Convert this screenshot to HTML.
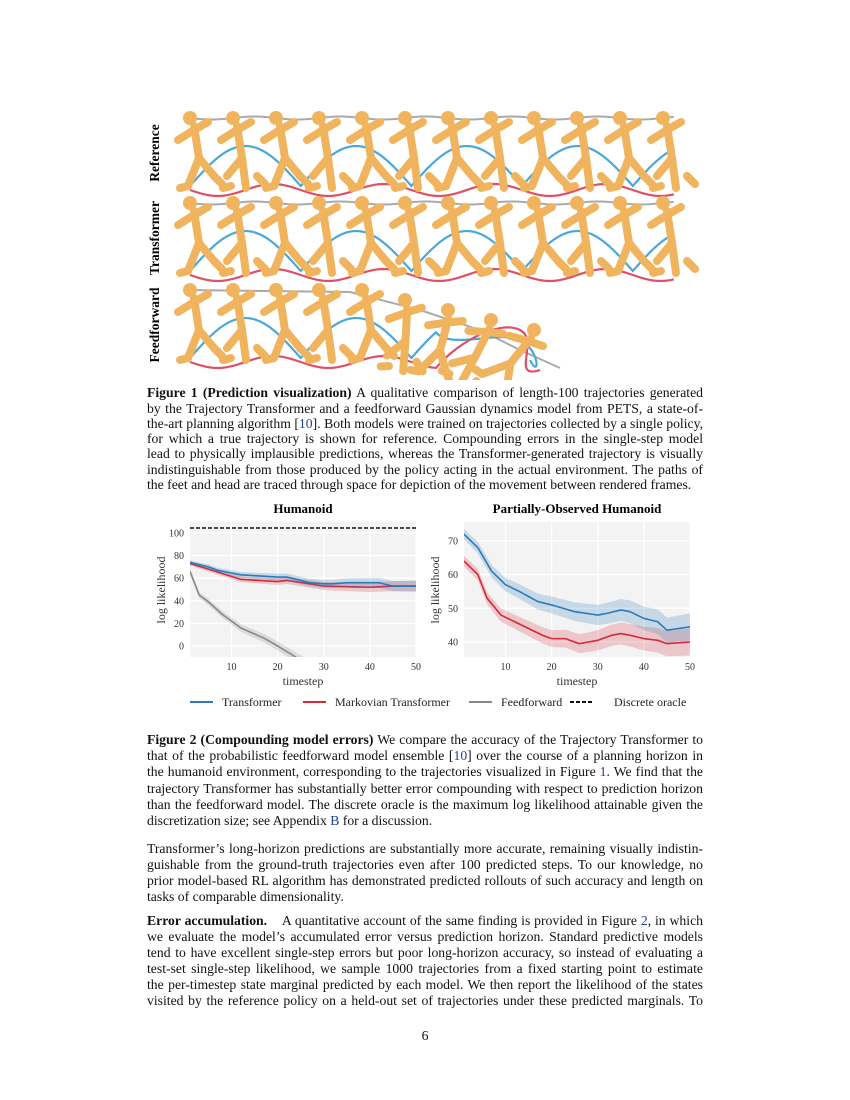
<!DOCTYPE html>
<html><head><meta charset="utf-8">
<style>
body{margin:0;background:#fff;}
#pg{position:relative;width:850px;height:1100px;overflow:hidden;font-family:"Liberation Serif",serif;color:#111;}
.ln{position:absolute;left:147px;width:556px;font-size:13.7px;line-height:15px;white-space:nowrap;text-align:justify;text-align-last:justify;}
.ln.l{text-align-last:left;}
b{font-weight:bold;}
.bl{color:#1f3f9f;}
svg text{font-family:"Liberation Serif",serif;}
</style></head><body><div id="pg">
<svg id="fig1" width="850" height="380" style="position:absolute;left:0;top:0"></svg>
<svg id="fig2" width="850" height="720" style="position:absolute;left:0;top:0"></svg>

<div class="ln" style="top:385px"><b>Figure 1 (Prediction visualization)</b> A qualitative comparison of length-100 trajectories generated</div>
<div class="ln" style="top:401px">by the Trajectory Transformer and a feedforward Gaussian dynamics model from PETS, a state-of-</div>
<div class="ln" style="top:416px">the-art planning algorithm [<span class="bl">10</span>]. Both models were trained on trajectories collected by a single policy,</div>
<div class="ln" style="top:431px">for which a true trajectory is shown for reference. Compounding errors in the single-step model</div>
<div class="ln" style="top:446px">lead to physically implausible predictions, whereas the Transformer-generated trajectory is visually</div>
<div class="ln" style="top:462px">indistinguishable from those produced by the policy acting in the actual environment. The paths of</div>
<div class="ln l" style="top:477px">the feet and head are traced through space for depiction of the movement between rendered frames.</div>

<div class="ln" style="top:732px"><b>Figure 2 (Compounding model errors)</b> We compare the accuracy of the Trajectory Transformer to</div>
<div class="ln" style="top:748px">that of the probabilistic feedforward model ensemble [<span class="bl">10</span>] over the course of a planning horizon in</div>
<div class="ln" style="top:764px">the humanoid environment, corresponding to the trajectories visualized in Figure <span class="bl">1</span>. We find that the</div>
<div class="ln" style="top:781px">trajectory Transformer has substantially better error compounding with respect to prediction horizon</div>
<div class="ln" style="top:797px">than the feedforward model. The discrete oracle is the maximum log likelihood attainable given the</div>
<div class="ln l" style="top:813px">discretization size; see Appendix <span class="bl">B</span> for a discussion.</div>

<div class="ln" style="top:841px">Transformer’s long-horizon predictions are substantially more accurate, remaining visually indistin-</div>
<div class="ln" style="top:857px">guishable from the ground-truth trajectories even after 100 predicted steps. To our knowledge, no</div>
<div class="ln" style="top:873px">prior model-based RL algorithm has demonstrated predicted rollouts of such accuracy and length on</div>
<div class="ln l" style="top:889px">tasks of comparable dimensionality.</div>

<div class="ln" style="top:913px"><b>Error accumulation.</b>&nbsp;&nbsp;&nbsp; A quantitative account of the same finding is provided in Figure <span class="bl">2</span>, in which</div>
<div class="ln" style="top:929px">we evaluate the model’s accumulated error versus prediction horizon. Standard predictive models</div>
<div class="ln" style="top:945px">tend to have excellent single-step errors but poor long-horizon accuracy, so instead of evaluating a</div>
<div class="ln" style="top:961px">test-set single-step likelihood, we sample 1000 trajectories from a fixed starting point to estimate</div>
<div class="ln" style="top:977px">the per-timestep state marginal predicted by each model. We then report the likelihood of the states</div>
<div class="ln" style="top:993px">visited by the reference policy on a held-out set of trajectories under these predicted marginals. To</div>
<div style="position:absolute;left:0;width:850px;top:1028px;text-align:center;font-size:13.7px">6</div>
</div>
<script>
var NS="http://www.w3.org/2000/svg";
function el(p,t,a,txt){var e=document.createElementNS(NS,t);for(var k in a)e.setAttribute(k,a[k]);if(txt!=null)e.textContent=txt;p.appendChild(e);return e;}
var f1=document.getElementById('fig1');
function row(y0,label,n,broken){
  var g="",b="",r="";
  var N=broken?60:118;
  for(var i=0;i<=N;i++){var x=190+i*4.1;
    g+=(i?"L":"M")+x+","+(y0+Math.sin(i*0.3)*1.5);
    b+=(i?"L":"M")+x+","+(y0+68-Math.abs(Math.sin(i*Math.PI/27))*40);
    r+=(i?"L":"M")+x+","+(y0+72+Math.sin(i*Math.PI/13.5)*6);}
  if(broken){g="M185,"+y0+" L350,"+(y0+2)+" L420,"+(y0+20)+" L480,"+(y0+40)+" L520,"+(y0+60)+" L560,"+(y0+78);
    b+=" C 450,"+(y0+60)+" 500,"+(y0+40)+" 520,"+(y0+50)+" S 540,"+(y0+90)+" 530,"+(y0+70);
    r+=" C 460,"+(y0+50)+" 500,"+(y0+30)+" 520,"+(y0+40)+" S 510,"+(y0+90)+" 540,"+(y0+80);}
  el(f1,'path',{d:g,stroke:'#aaa','stroke-width':2,fill:'none'});
  el(f1,'path',{d:b,stroke:'#4aa8d8','stroke-width':2.2,fill:'none'});
  el(f1,'path',{d:r,stroke:'#e05064','stroke-width':2.2,fill:'none'});
  for(var k=0;k<n;k++){var x=190+k*43,y=y0;
    var dy=0,tilt=0; if(broken&&k>=5){dy=(k-4)*10;tilt=(k-4)*12;}
    var gg=el(f1,'g',{stroke:'#f0b45e','stroke-width':8,'stroke-linecap':'round',fill:'none',transform:'translate('+x+','+(y+dy)+') rotate('+tilt+')'});
    var L=[[4,8,9,40],[9,40,-2,68],[9,40,24,58],[24,58,32,66],[4,12,-12,22],[4,12,18,4],[-2,68,-10,70]];
    if(k%2){L[1]=[9,40,13,70];L[2]=[9,40,-6,58];}
    L.forEach(function(s){el(gg,'line',{x1:s[0],y1:s[1],x2:s[2],y2:s[3]});});
    el(gg,'circle',{cx:0,cy:0,r:7,fill:'#f0b45e',stroke:'none'});
  }
  el(f1,'text',{x:0,y:0,'font-size':13.5,'font-weight':'bold','text-anchor':'middle',transform:'translate(159,'+(y0+35)+') rotate(-90)'},label);
}
row(118,'Reference',12,false);
row(203,'Transformer',12,false);
row(290,'Feedforward',9,true);

var f2=document.getElementById('fig2');
function plot(o){
  el(f2,'rect',{x:o.x0,y:522,width:o.x1-o.x0,height:135,fill:'#f3f3f3'});
  var sx=function(v){return o.x0+(v-1)*(o.x1-o.x0)/49;};
  var sy=o.sy;
  [10,20,30,40,50].forEach(function(t){el(f2,'line',{x1:sx(t),x2:sx(t),y1:522,y2:657,stroke:'#fff','stroke-width':1.3});
    el(f2,'text',{x:sx(t),y:670,'font-size':10,'text-anchor':'middle',fill:'#333'},t);});
  o.yt.forEach(function(v){var y=sy(v);el(f2,'line',{x1:o.x0,x2:o.x1,y1:y,y2:y,stroke:'#fff','stroke-width':1.3});
    el(f2,'text',{x:o.x0-6,y:y+3.5,'font-size':10,'text-anchor':'end',fill:'#333'},v);});
  var cp=el(f2,'clipPath',{id:o.id});el(cp,'rect',{x:o.x0,y:522,width:o.x1-o.x0,height:135});
  var g=el(f2,'g',{'clip-path':'url(#'+o.id+')'});
  function interp(pts){var out=[];for(var t=1;t<=50;t++){for(var i=0;i<pts.length-1;i++){if(t>=pts[i][0]&&t<=pts[i+1][0]){var a=pts[i],b=pts[i+1];out.push([t,a[1]+(b[1]-a[1])*(t-a[0])/(b[0]-a[0])]);break;}}}return out;}
  o.series.forEach(function(s){var d=interp(s.p);
    var band="";d.forEach(function(q,i){band+=(i?"L":"M")+sx(q[0])+","+sy(q[1]+s.e*(0.6+q[0]/50));});
    for(var i=d.length-1;i>=0;i--)band+="L"+sx(d[i][0])+","+sy(d[i][1]-s.e*(0.6+d[i][0]/50));
    el(g,'path',{d:band+"Z",fill:s.c,'fill-opacity':0.22,stroke:'none'});
    var l="";d.forEach(function(q,i){l+=(i?"L":"M")+sx(q[0])+","+sy(q[1]);});
    el(g,'path',{d:l,stroke:s.c,'stroke-width':1.6,fill:'none'});});
  if(o.oracle)el(f2,'line',{x1:o.x0,x2:o.x1,y1:528,y2:528,stroke:'#111','stroke-width':1.6,'stroke-dasharray':'4,2'});
  el(f2,'text',{x:(o.x0+o.x1)/2,y:513,'font-size':13,'font-weight':'bold','text-anchor':'middle'},o.title);
  el(f2,'text',{x:(o.x0+o.x1)/2,y:685,'font-size':12,'text-anchor':'middle',fill:'#333'},'timestep');
  el(f2,'text',{x:0,y:0,'font-size':12,'text-anchor':'middle',fill:'#333',transform:'translate('+(o.x0-25)+',590) rotate(-90)'},'log likelihood');
}
plot({id:'c1',x0:190,x1:416,title:'Humanoid',oracle:true,yt:[0,20,40,60,80,100],
 sy:function(v){return 646-v*1.13;},
 series:[
  {c:'#888',e:4,p:[[1,66],[3,45],[5,39],[8,28],[12,16],[17,7],[20,0],[24,-10],[30,-25],[50,-60]]},
  {c:'#d62838',e:3,p:[[1,73],[5,68],[12,59],[20,57],[22,58],[27,55],[30,53],[40,52],[45,53],[50,53]]},
  {c:'#2b7bba',e:3,p:[[1,74],[5,70],[7,67],[12,63],[20,61],[22,61],[27,56],[30,55],[32,55],[35,56],[42,56],[45,53],[50,53]]}]});
plot({id:'c2',x0:464,x1:690,title:'Partially-Observed Humanoid',oracle:false,yt:[40,50,60,70],
 sy:function(v){return 642-(v-40)*3.37;},
 series:[
  {c:'#d62838',e:2.5,p:[[1,64],[4,60],[6,53],[9,48],[12,46],[15,44],[18,42],[20,41],[23,41],[26,39.5],[30,40.5],[33,42],[35,42.5],[37,42],[40,41],[43,40.5],[45,39.5],[50,40]]},
  {c:'#2b7bba',e:2.5,p:[[1,72],[4,68],[7,61],[10,57],[13,55],[17,52],[20,51],[25,49],[30,48],[32,48.5],[35,49.5],[37,49],[40,47],[43,46],[45,43.5],[50,44.5]]}]});
[[190,'#2b7bba','Transformer',0],[303,'#d62838','Markovian Transformer',0],[469,'#888','Feedforward',0],[570,'#111','Discrete oracle',1]].forEach(function(q){
  var a={x1:q[0],x2:q[0]+23,y1:702,y2:702,stroke:q[1],'stroke-width':2};if(q[3])a['stroke-dasharray']='4,2';
  el(f2,'line',a);el(f2,'text',{x:q[0]+(q[3]?44:32),y:706,'font-size':12,fill:'#222'},q[2]);});
</script>
</body></html>
